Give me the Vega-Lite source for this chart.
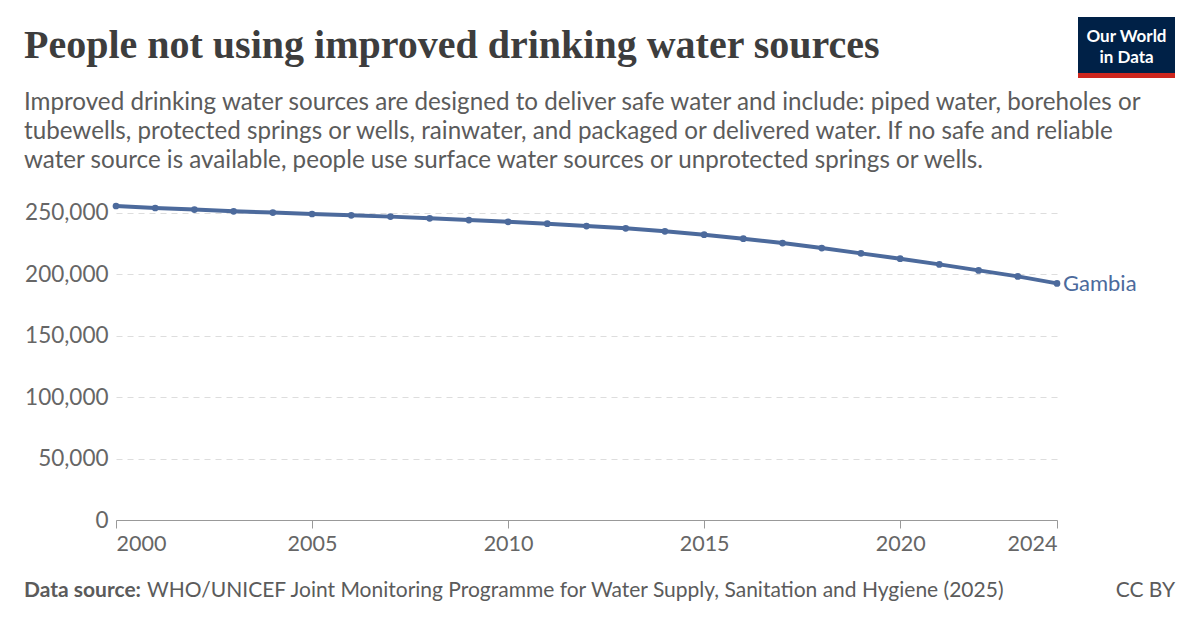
{
  "$schema": "https://vega.github.io/schema/vega-lite/v6.json",
  "width": 941,
  "height": 314,
  "autosize": {"type": "none"},
  "padding": {"left": 116, "top": 206, "right": 143, "bottom": 107},
  "background": "white",
  "title": {
    "text": "People not using improved drinking water sources",
    "subtitle": [
      "Improved drinking water sources are designed to deliver safe water and include: piped water, boreholes or",
      "tubewells, protected springs or wells, rainwater, and packaged or delivered water. If no safe and reliable",
      "water source is available, people use surface water sources or unprotected springs or wells."
    ],
    "anchor": "start",
    "frame": "group",
    "dx": -92,
    "offset": -156,
    "font": "Liberation Serif",
    "fontSize": 40,
    "fontWeight": "bold",
    "color": "#3d3d3d",
    "subtitleFont": "Lato",
    "subtitleFontSize": 24.2,
    "subtitleColor": "#5b5b5b",
    "subtitleLineHeight": 29,
    "subtitlePadding": 25
  },
  "config": {
    "view": {"stroke": null},
    "font": "Lato"
  },
  "data": {
    "values": [
      {"year": 2000, "value": 255370, "entity": "Gambia"},
      {"year": 2001, "value": 253740, "entity": "Gambia"},
      {"year": 2002, "value": 252430, "entity": "Gambia"},
      {"year": 2003, "value": 251050, "entity": "Gambia"},
      {"year": 2004, "value": 249990, "entity": "Gambia"},
      {"year": 2005, "value": 248850, "entity": "Gambia"},
      {"year": 2006, "value": 247790, "entity": "Gambia"},
      {"year": 2007, "value": 246730, "entity": "Gambia"},
      {"year": 2008, "value": 245350, "entity": "Gambia"},
      {"year": 2009, "value": 243960, "entity": "Gambia"},
      {"year": 2010, "value": 242500, "entity": "Gambia"},
      {"year": 2011, "value": 241030, "entity": "Gambia"},
      {"year": 2012, "value": 239080, "entity": "Gambia"},
      {"year": 2013, "value": 237210, "entity": "Gambia"},
      {"year": 2014, "value": 234760, "entity": "Gambia"},
      {"year": 2015, "value": 232080, "entity": "Gambia"},
      {"year": 2016, "value": 228820, "entity": "Gambia"},
      {"year": 2017, "value": 225240, "entity": "Gambia"},
      {"year": 2018, "value": 221170, "entity": "Gambia"},
      {"year": 2019, "value": 216850, "entity": "Gambia"},
      {"year": 2020, "value": 212530, "entity": "Gambia"},
      {"year": 2021, "value": 207890, "entity": "Gambia"},
      {"year": 2022, "value": 203000, "entity": "Gambia"},
      {"year": 2023, "value": 198120, "entity": "Gambia"},
      {"year": 2024, "value": 192420, "entity": "Gambia"}
    ]
  },
  "encoding": {
    "x": {
      "field": "year",
      "type": "quantitative",
      "scale": {"domain": [2000, 2024], "nice": false, "zero": false},
      "axis": {
        "title": null,
        "values": [2000, 2005, 2010, 2015, 2020, 2024],
        "format": "d",
        "grid": false,
        "domainColor": "#999999",
        "tickColor": "#999999",
        "tickSize": 8,
        "labelFont": "Lato",
        "labelFontSize": 21.5,
        "labelColor": "#666666",
        "labelPadding": 5,
        "labelAlign": {"expr": "datum.value <= 2000 ? 'left' : datum.value >= 2024 ? 'right' : 'center'"},
        "labelFlush": false,
        "labelOverlap": false
      }
    },
    "y": {
      "field": "value",
      "type": "quantitative",
      "scale": {"domain": [0, 255370], "nice": false},
      "axis": {
        "title": null,
        "values": [0, 50000, 100000, 150000, 200000, 250000],
        "format": ",d",
        "domain": false,
        "ticks": false,
        "grid": true,
        "gridColor": "#dddddd",
        "gridDash": [6, 5],
        "gridWidth": 1,
        "labelFont": "Lato",
        "labelFontSize": 22.5,
        "labelColor": "#666666",
        "labelPadding": 8
      }
    }
  },
  "layer": [
    {
      "mark": {"type": "line", "color": "#4C6A9C", "strokeWidth": 4, "strokeJoin": "round", "strokeCap": "round"},
      "encoding": {}
    },
    {
      "mark": {"type": "point", "filled": true, "color": "#4C6A9C", "size": 45, "opacity": 1},
      "encoding": {}
    },
    {
      "transform": [{"filter": "datum.year == 2024"}],
      "mark": {"type": "text", "align": "left", "baseline": "middle", "dx": 6, "dy": 1, "font": "Lato", "fontSize": 22, "color": "#4C6A9C"},
      "encoding": {"text": {"field": "entity"}}
    },
    {
      "data": {"values": [{"t": "Data source:"}]},
      "mark": {"type": "text", "align": "left", "baseline": "alphabetic", "font": "Lato", "fontSize": 21, "fontWeight": "bold", "color": "#5b5b5b", "x": -92, "y": 391},
      "encoding": {"text": {"field": "t"}, "x": null, "y": null}
    },
    {
      "data": {"values": [{"t": "WHO/UNICEF Joint Monitoring Programme for Water Supply, Sanitation and Hygiene (2025)"}]},
      "mark": {"type": "text", "align": "left", "baseline": "alphabetic", "font": "Lato", "fontSize": 21, "color": "#5b5b5b", "x": 31, "y": 391},
      "encoding": {"text": {"field": "t"}, "x": null, "y": null}
    },
    {
      "data": {"values": [{"t": "CC BY"}]},
      "mark": {"type": "text", "align": "right", "baseline": "alphabetic", "font": "Lato", "fontSize": 21, "color": "#5b5b5b", "x": 1059, "y": 391},
      "encoding": {"text": {"field": "t"}, "x": null, "y": null}
    },
    {
      "data": {"values": [{"t": "logo"}]},
      "mark": {"type": "rect", "color": "#002147", "x": 962, "x2": 1059, "y": -189, "y2": -133},
      "encoding": {"x": null, "y": null}
    },
    {
      "data": {"values": [{"t": "logo"}]},
      "mark": {"type": "rect", "color": "#ce261e", "x": 962, "x2": 1059, "y": -133, "y2": -128},
      "encoding": {"x": null, "y": null}
    },
    {
      "data": {"values": [{"t": "Our World"}]},
      "mark": {"type": "text", "align": "center", "baseline": "alphabetic", "font": "Lato", "fontSize": 17, "fontWeight": "bold", "color": "white", "x": 1010.5, "y": -164},
      "encoding": {"text": {"field": "t"}, "x": null, "y": null}
    },
    {
      "data": {"values": [{"t": "in Data"}]},
      "mark": {"type": "text", "align": "center", "baseline": "alphabetic", "font": "Lato", "fontSize": 17, "fontWeight": "bold", "color": "white", "x": 1010.5, "y": -143},
      "encoding": {"text": {"field": "t"}, "x": null, "y": null}
    }
  ]
}
